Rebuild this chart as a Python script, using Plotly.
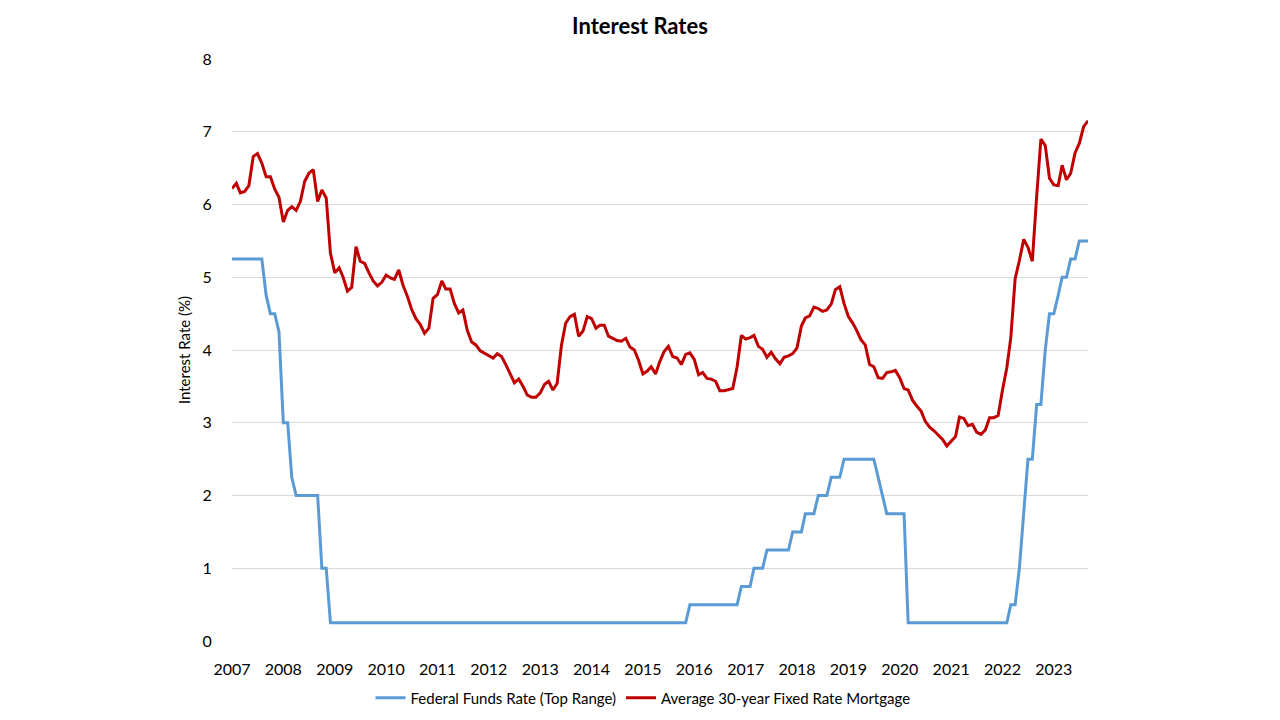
import plotly.graph_objects as go
import pandas as pd

months = pd.date_range("2007-01-01", "2023-09-01", freq="MS").strftime("%Y-%m-%d").tolist()

fed_funds = [
    # 2007
    5.25, 5.25, 5.25, 5.25, 5.25, 5.25, 5.25, 5.25, 4.75, 4.5, 4.5, 4.25,
    # 2008
    3.0, 3.0, 2.25, 2.0, 2.0, 2.0, 2.0, 2.0, 2.0, 1.0, 1.0, 0.25,
    # 2009
    0.25, 0.25, 0.25, 0.25, 0.25, 0.25, 0.25, 0.25, 0.25, 0.25, 0.25, 0.25,
    # 2010
    0.25, 0.25, 0.25, 0.25, 0.25, 0.25, 0.25, 0.25, 0.25, 0.25, 0.25, 0.25,
    # 2011
    0.25, 0.25, 0.25, 0.25, 0.25, 0.25, 0.25, 0.25, 0.25, 0.25, 0.25, 0.25,
    # 2012
    0.25, 0.25, 0.25, 0.25, 0.25, 0.25, 0.25, 0.25, 0.25, 0.25, 0.25, 0.25,
    # 2013
    0.25, 0.25, 0.25, 0.25, 0.25, 0.25, 0.25, 0.25, 0.25, 0.25, 0.25, 0.25,
    # 2014
    0.25, 0.25, 0.25, 0.25, 0.25, 0.25, 0.25, 0.25, 0.25, 0.25, 0.25, 0.25,
    # 2015
    0.25, 0.25, 0.25, 0.25, 0.25, 0.25, 0.25, 0.25, 0.25, 0.25, 0.25, 0.5,
    # 2016
    0.5, 0.5, 0.5, 0.5, 0.5, 0.5, 0.5, 0.5, 0.5, 0.5, 0.5, 0.75,
    # 2017
    0.75, 0.75, 1.0, 1.0, 1.0, 1.25, 1.25, 1.25, 1.25, 1.25, 1.25, 1.5,
    # 2018
    1.5, 1.5, 1.75, 1.75, 1.75, 2.0, 2.0, 2.0, 2.25, 2.25, 2.25, 2.5,
    # 2019
    2.5, 2.5, 2.5, 2.5, 2.5, 2.5, 2.5, 2.25, 2.0, 1.75, 1.75, 1.75,
    # 2020
    1.75, 1.75, 0.25, 0.25, 0.25, 0.25, 0.25, 0.25, 0.25, 0.25, 0.25, 0.25,
    # 2021
    0.25, 0.25, 0.25, 0.25, 0.25, 0.25, 0.25, 0.25, 0.25, 0.25, 0.25, 0.25,
    # 2022
    0.25, 0.25, 0.5, 0.5, 1.0, 1.75, 2.5, 2.5, 3.25, 3.25, 4.0, 4.5,
    # 2023
    4.5, 4.75, 5.0, 5.0, 5.25, 5.25, 5.5, 5.5, 5.5,
]

mortgage_30yr = [
    # 2007
    6.22, 6.29, 6.16, 6.18, 6.26, 6.66, 6.70, 6.57, 6.38, 6.38, 6.21, 6.10,
    # 2008
    5.76, 5.92, 5.97, 5.92, 6.04, 6.32, 6.43, 6.48, 6.04, 6.20, 6.09, 5.33,
    # 2009
    5.06, 5.13, 5.00, 4.81, 4.86, 5.42, 5.22, 5.19, 5.06, 4.95, 4.88, 4.93,
    # 2010
    5.03, 4.99, 4.97, 5.10, 4.89, 4.74, 4.56, 4.43, 4.35, 4.23, 4.30, 4.71,
    # 2011
    4.76, 4.95, 4.84, 4.84, 4.64, 4.51, 4.55, 4.27, 4.11, 4.07, 3.99, 3.96,
    # 2012
    3.92, 3.89, 3.95, 3.91, 3.80, 3.68, 3.55, 3.60, 3.50, 3.38, 3.35, 3.35,
    # 2013
    3.41, 3.53, 3.57, 3.45, 3.54, 4.07, 4.37, 4.46, 4.49, 4.19, 4.26, 4.46,
    # 2014
    4.43, 4.30, 4.34, 4.34, 4.19, 4.16, 4.13, 4.12, 4.16, 4.04, 4.00, 3.86,
    # 2015
    3.67, 3.71, 3.77, 3.67, 3.84, 3.98, 4.05, 3.91, 3.89, 3.80, 3.94, 3.96,
    # 2016
    3.87, 3.66, 3.69, 3.61, 3.60, 3.57, 3.44, 3.44, 3.46, 3.47, 3.77, 4.20,
    # 2017
    4.15, 4.17, 4.20, 4.05, 4.01, 3.90, 3.97, 3.88, 3.81, 3.90, 3.92, 3.95,
    # 2018
    4.03, 4.33, 4.44, 4.47, 4.59, 4.57, 4.53, 4.55, 4.63, 4.83, 4.87, 4.64,
    # 2019
    4.46, 4.37, 4.27, 4.14, 4.07, 3.80, 3.77, 3.62, 3.61, 3.69, 3.70, 3.72,
    # 2020
    3.62, 3.47, 3.45, 3.31, 3.23, 3.16, 3.02, 2.94, 2.89, 2.83, 2.77, 2.68,
    # 2021
    2.74, 2.81, 3.08, 3.06, 2.96, 2.98, 2.87, 2.84, 2.90, 3.07, 3.07, 3.10,
    # 2022
    3.45, 3.76, 4.17, 4.98, 5.23, 5.52, 5.41, 5.22, 6.11, 6.90, 6.81, 6.36,
    # 2023
    6.27, 6.26, 6.54, 6.34, 6.43, 6.71, 6.84, 7.07, 7.15,
]

series_names = ["Federal Funds Rate (Top Range)", "Average 30-year Fixed Rate Mortgage"]
y_ticks = [0, 1, 2, 3, 4, 5, 6, 7, 8]

FONT = "Lato, 'Open Sans', sans-serif"
OFF = 8  # page body margin

fig = go.Figure()
fig.add_trace(go.Scatter(x=months, y=fed_funds, mode="lines", name=series_names[0],
                         line=dict(color="#5B9BD5", width=3)))
fig.add_trace(go.Scatter(x=months, y=mortgage_30yr, mode="lines", name=series_names[1],
                         line=dict(color="#C00000", width=3)))

fig.update_layout(
    width=1280, height=720,
    paper_bgcolor="white", plot_bgcolor="white",
    margin=dict(l=232 - OFF, r=1280 - (1088 - OFF), t=59 - OFF, b=720 - (641 - OFF), autoexpand=False),
    font=dict(family=FONT, color="#000000", size=16),
    title=dict(text="<b>Interest Rates</b>", x=(640 - OFF) / 1280, xref="container", xanchor="center",
               y=1 - (26 - OFF) / 720, yref="container", yanchor="middle",
               font=dict(size=22, family=FONT, color="#000000")),
    showlegend=True,
    legend=dict(orientation="h", x=(643 - 232) / 856, xanchor="center",
                y=1 - (698 - OFF) / 720, yref="container", yanchor="middle",
                font=dict(size=15, family=FONT, color="#000000"),
                itemwidth=30, tracegroupgap=0),
    xaxis=dict(type="date", range=[months[0], months[-1]],
               dtick="M12", tick0="2007-01-01", tickformat="%Y",
               showgrid=False, zeroline=False, showline=False,
               ticks="outside", ticklen=14, tickcolor="rgba(0,0,0,0)",
               tickfont=dict(size=16, family=FONT, color="#000000")),
    yaxis=dict(range=[0, 8], tickvals=y_ticks, showgrid=True, gridcolor="#D9D9D9", gridwidth=1,
               zeroline=False, showline=False,
               ticks="outside", ticklen=16, tickcolor="rgba(0,0,0,0)",
               tickfont=dict(size=16, family=FONT, color="#000000"),
               title=dict(text="Interest Rate (%)", font=dict(size=15, family=FONT, color="#000000"),
                          standoff=8)),
)

fig.write_html("out.html")
